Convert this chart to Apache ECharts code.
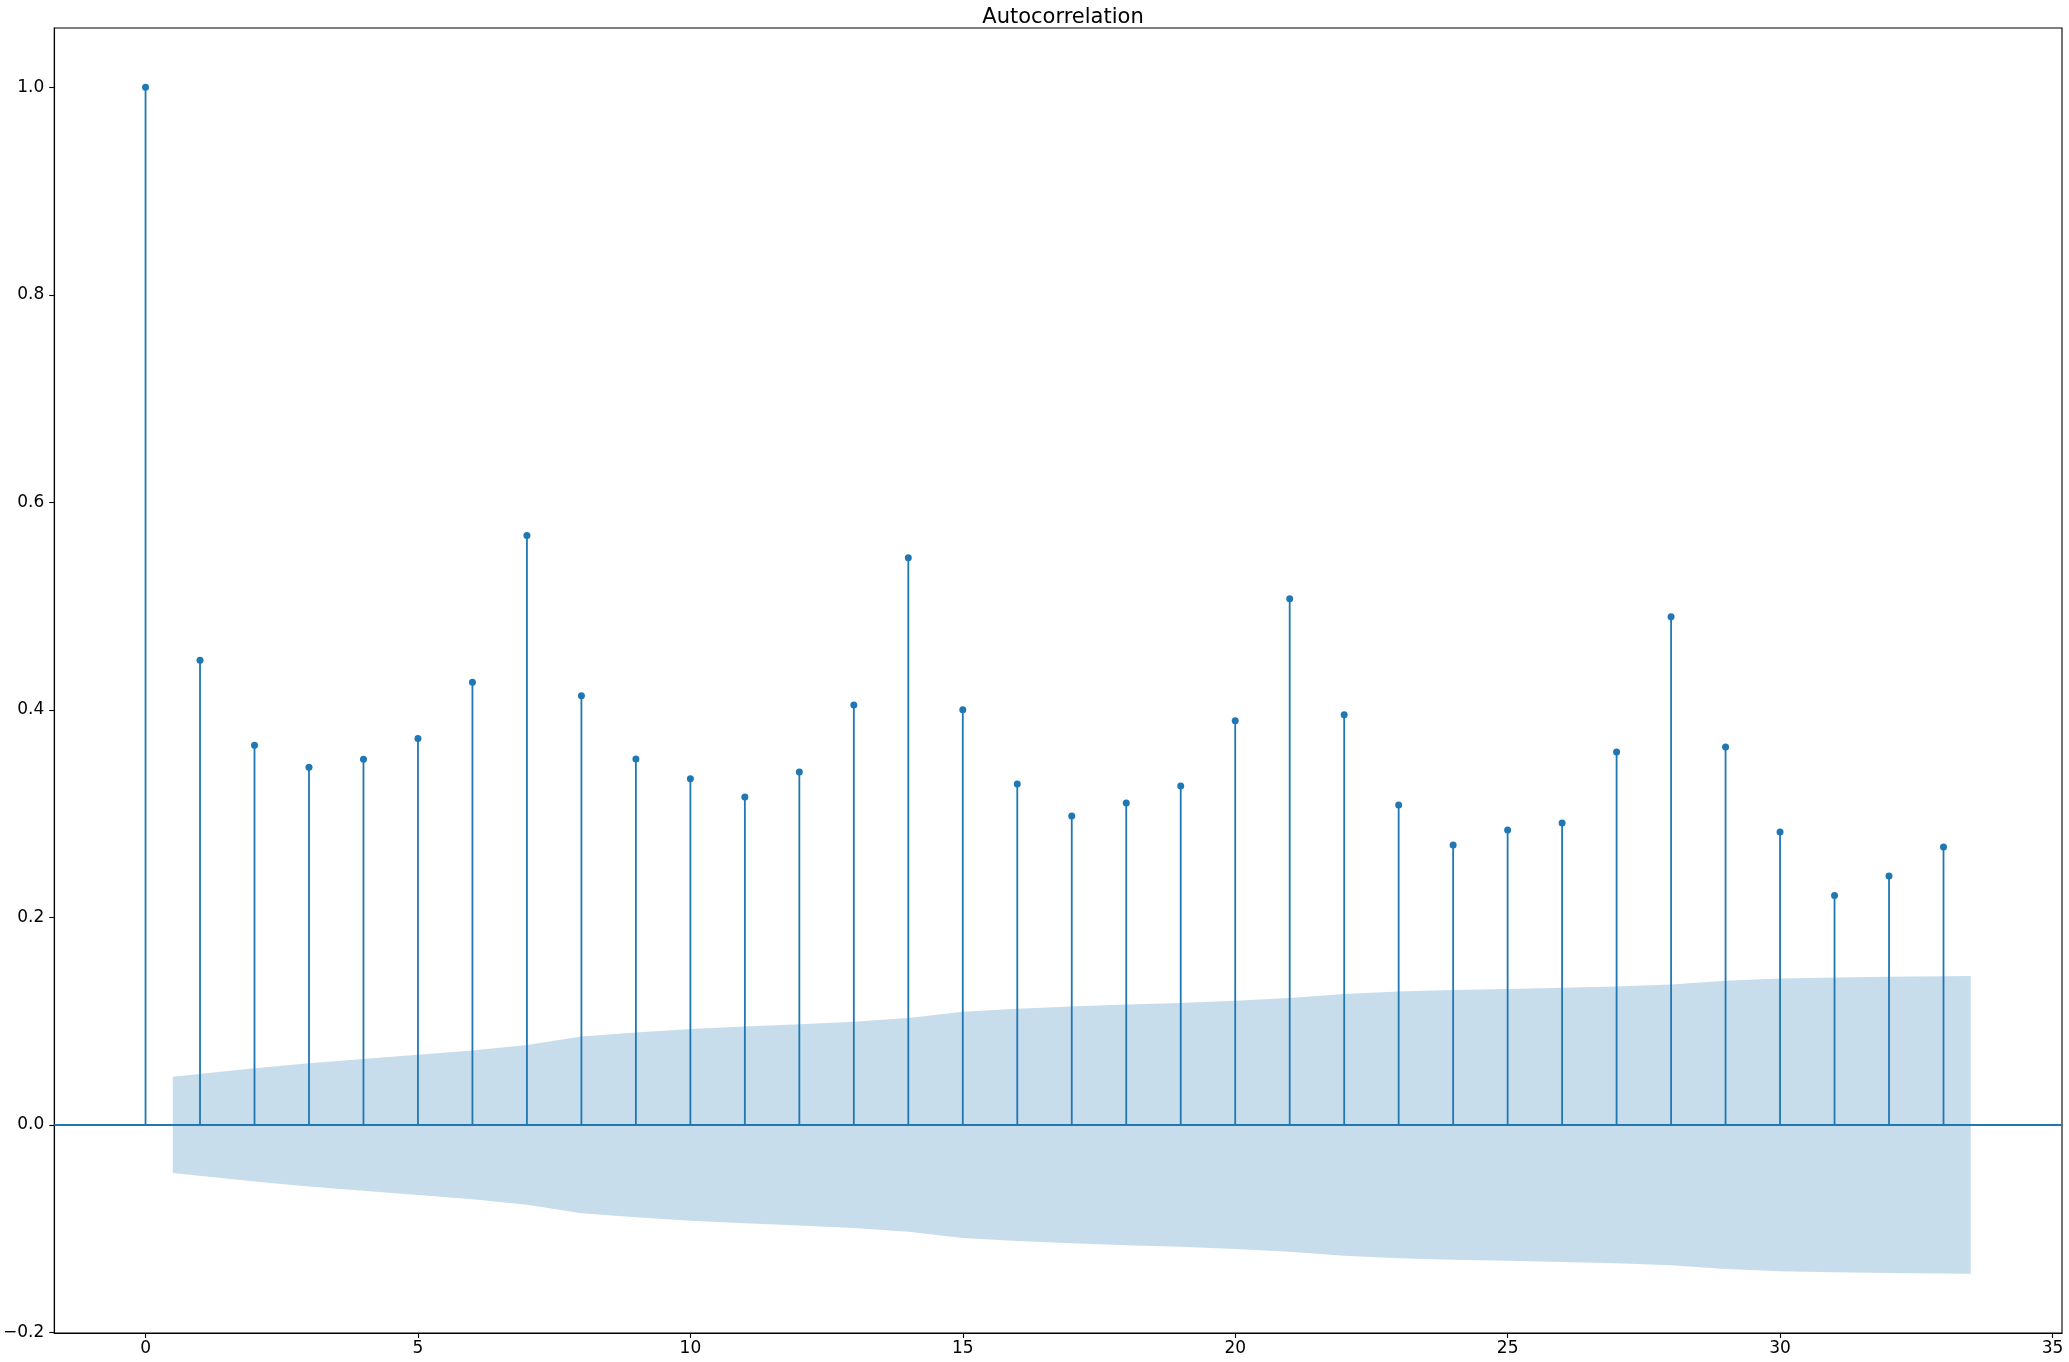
<!DOCTYPE html>
<html>
<head>
<meta charset="utf-8">
<script src="https://cdn.jsdelivr.net/npm/echarts@6/dist/echarts.min.js"></script>
<style>
html,body{margin:0;padding:0;background:#fff;}
#chart{width:2069px;height:1362px;}
</style>
</head>
<body>
<div id="chart"></div>
<script>
// Lags and autocorrelation values
const lags = [0,1,2,3,4,5,6,7,8,9,10,11,12,13,14,15,16,17,18,19,20,21,22,23,24,25,26,27,28,29,30,31,32,33];
const acfValues = [1.0,0.4477,0.3658,0.3446,0.3523,0.3725,0.4265,0.568,0.4135,0.3527,0.3335,0.3161,0.3402,0.4048,0.5466,0.400,0.3286,0.2978,0.3103,0.3267,0.3894,0.5071,0.3952,0.3084,0.2698,0.2843,0.2910,0.3595,0.4897,0.3643,0.2823,0.221,0.2399,0.2679];
// Confidence band (upper half-width) at band x positions
const bandX = [0.5,2,3,4,5,6,7,8,9,10,11,12,13,14,15,16,17,18,19,20,21,22,23,24,25,26,27,28,29,30,31,32,33.5];
const bandHalf = [0.0465,0.0545,0.0595,0.0634,0.0675,0.0717,0.0769,0.0852,0.0890,0.0923,0.0948,0.0971,0.0994,0.1029,0.1090,0.1119,0.1141,0.1160,0.1174,0.1196,0.1222,0.1262,0.1285,0.1300,0.1310,0.1322,0.1334,0.1352,0.1390,0.1410,0.1420,0.1428,0.1434];
const xTicks = [0,5,10,15,20,25,30,35];
const yTicks = [-0.2,0,0.2,0.4,0.6,0.8,1.0];
const titleText = 'Autocorrelation';

const C0 = '#1f77b4';
const FONT = 'DejaVu Sans';

const points = lags.map((l, i) => [l, acfValues[i]]);
const bandData = bandX.map((x, i) => [x, -bandHalf[i], bandHalf[i]]);

const chart = echarts.init(document.getElementById('chart'), null, {renderer: 'canvas'});
chart.setOption({
  animation: false,
  backgroundColor: '#fff',
  title: {
    text: titleText,
    left: 1058,
    top: 2,
    textAlign: 'center',
    textStyle: {fontFamily: FONT, fontSize: 21, fontWeight: 'normal', color: '#000'}
  },
  grid: {
    left: 53, right: 7, top: 28, bottom: 29,
    show: true, borderColor: '#000', borderWidth: 1.1, backgroundColor: 'transparent'
  },
  xAxis: {
    type: 'value',
    min: -1.675, max: 35.175,
    splitLine: {show: false},
    axisLine: {show: true, onZero: false, lineStyle: {color: '#000', width: 1.1}},
    axisTick: {show: true, length: 5, lineStyle: {color: '#000', width: 1.1}, customValues: xTicks},
    axisLabel: {
      show: true, margin: 7, customValues: xTicks,
      fontFamily: FONT, fontSize: 17, color: '#000',
      formatter: v => String(Math.round(v))
    }
  },
  yAxis: {
    type: 'value',
    min: -0.2006, max: 1.0572,
    splitLine: {show: false},
    axisLine: {show: true, onZero: false, lineStyle: {color: '#000', width: 1.1}},
    axisTick: {show: true, length: 5, lineStyle: {color: '#000', width: 1.1}, customValues: yTicks},
    axisLabel: {
      show: true, margin: 10, customValues: yTicks,
      fontFamily: FONT, fontSize: 17, color: '#000',
      formatter: v => (Math.round(v * 10) / 10).toFixed(1).replace('-', '\u2212')
    }
  },
  series: [
    {
      type: 'custom', name: 'band', data: bandData, z: 1, silent: true,
      encode: {x: 0, y: [1, 2]},
      renderItem: function (params, api) {
        if (params.dataIndex !== 0) return null;
        const upper = bandData.map(d => api.coord([d[0], d[2]]));
        const lower = bandData.map(d => api.coord([d[0], d[1]])).reverse();
        return {
          type: 'polygon',
          shape: {points: upper.concat(lower)},
          style: {fill: C0, opacity: 0.25, stroke: null}
        };
      }
    },
    {
      type: 'custom', name: 'stems', data: points, z: 3, silent: true,
      renderItem: function (params, api) {
        const x = api.value(0), y = api.value(1);
        const p0 = api.coord([x, 0]);
        const p1 = api.coord([x, y]);
        return {
          type: 'line',
          shape: {x1: p0[0], y1: p0[1], x2: p1[0], y2: p1[1]},
          style: {stroke: C0, lineWidth: 1.8}
        };
      },
      markLine: {
        silent: true, symbol: ['none', 'none'], label: {show: false},
        lineStyle: {color: C0, width: 1.8, type: 'solid'},
        data: [{yAxis: 0}]
      }
    },
    {
      type: 'scatter', name: 'acf', data: points, z: 4, silent: true,
      symbol: 'circle', symbolSize: 7, itemStyle: {color: C0, opacity: 1}
    }
  ]
});
</script>
</body>
</html>
